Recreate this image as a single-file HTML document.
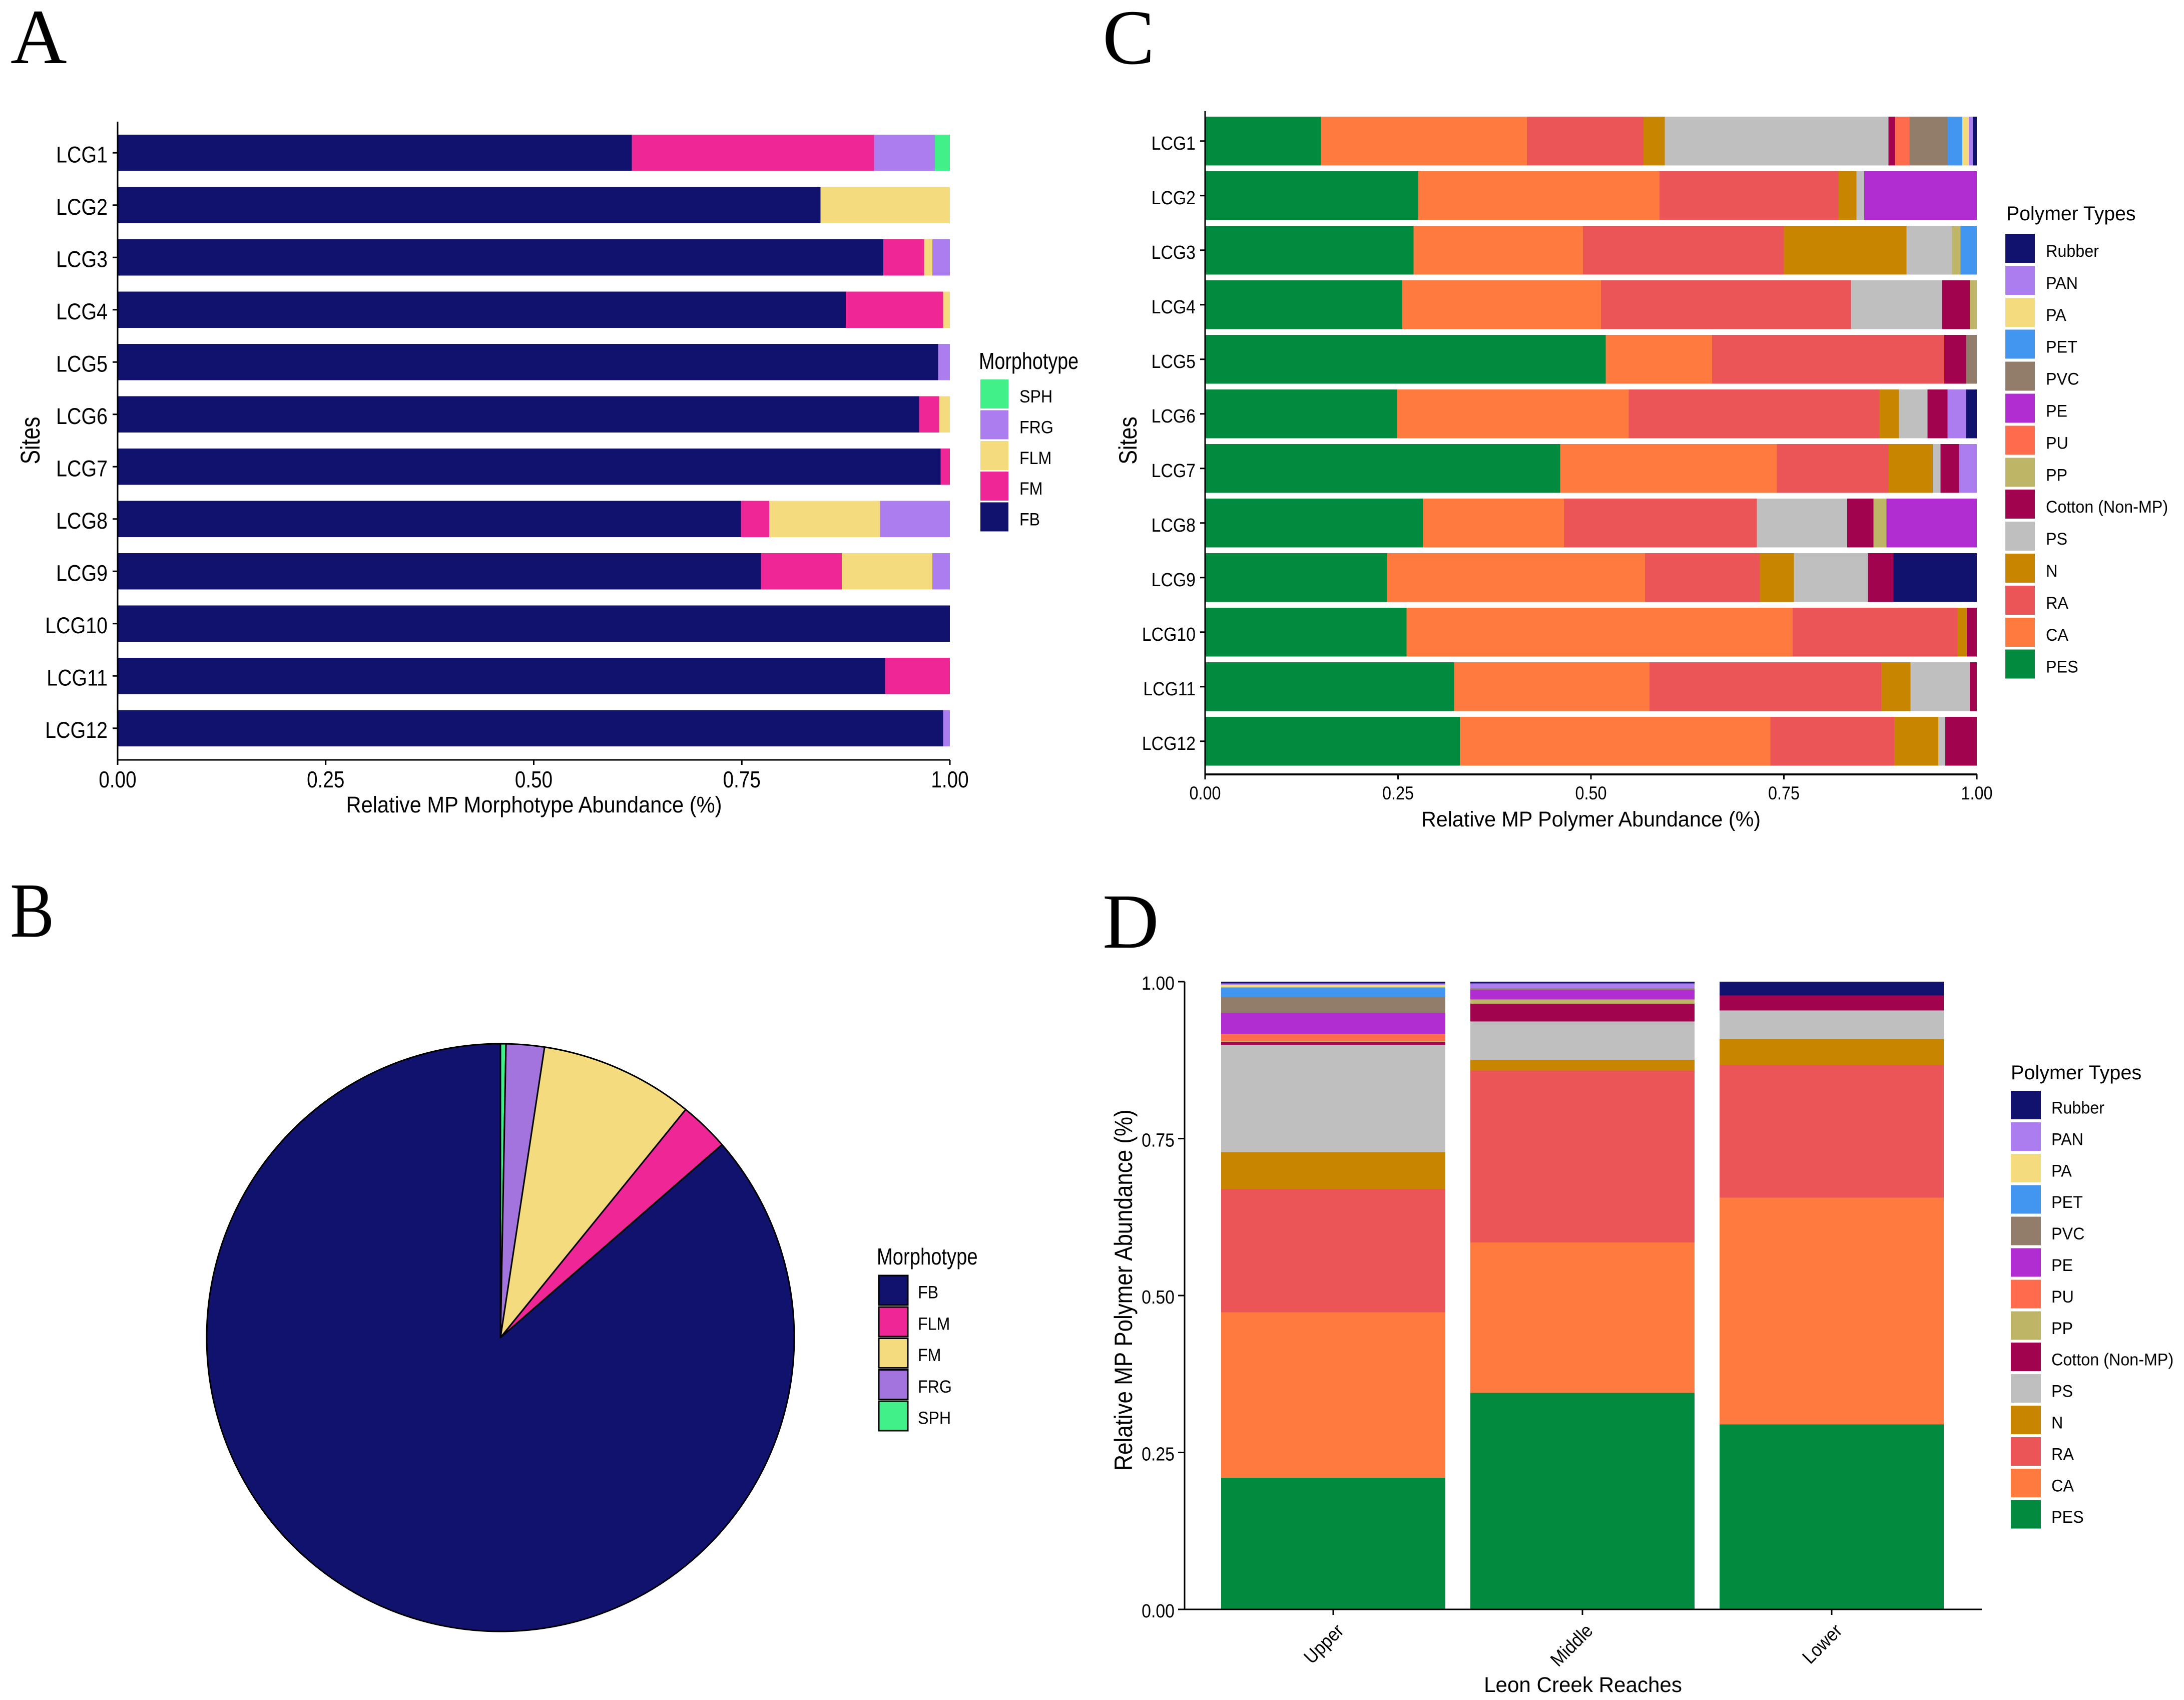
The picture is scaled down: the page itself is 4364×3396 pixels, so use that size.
<!DOCTYPE html>
<html lang="en">
<head>
<meta charset="utf-8">
<title>Microplastic morphotype and polymer abundance</title>
<style>
html,body{margin:0;padding:0;background:#fff;}
svg{display:block;}
text{font-family:"Liberation Sans",sans-serif;fill:#000;}
text.letter{font-family:"Liberation Serif",serif;}
</style>
</head>
<body>
<svg id="fig" xmlns="http://www.w3.org/2000/svg" width="4364" height="3396" viewBox="0 0 4364 3396">
<rect x="0" y="0" width="4364" height="3396" fill="#ffffff"/>
</svg>
<script>
// ---------- shared categories ----------
const sites = ['LCG1','LCG2','LCG3','LCG4','LCG5','LCG6','LCG7','LCG8','LCG9','LCG10','LCG11','LCG12'];
const fractionTicks = [0, 0.25, 0.5, 0.75, 1];
const fractionTickLabels = ['0.00','0.25','0.50','0.75','1.00'];

// ---------- panel A: morphotype per site ----------
const morphA_FB  = [0.618,0.8445,0.92,0.875,0.986,0.963,0.989,0.749,0.773,1,0.922,0.992];
const morphA_FM  = [0.291,0,0.049,0.117,0,0.024,0.011,0.034,0.097,0,0.078,0];
const morphA_FLM = [0,0.1555,0.010,0.008,0,0.013,0,0.133,0.109,0,0,0];
const morphA_FRG = [0.073,0,0.021,0,0.014,0,0,0.084,0.021,0,0,0.008];
const morphA_SPH = [0.018,0,0,0,0,0,0,0,0,0,0,0];
const morphAOrder = ['FB','FM','FLM','FRG','SPH'];
const morphALegend = ['SPH','FRG','FLM','FM','FB'];

// ---------- panel B: pie ----------
const pieLabels = ['SPH','FRG','FM','FLM','FB'];
const pieValues = [0.3,2.1,8.46,2.74,86.4];
const pieLegend = ['FB','FLM','FM','FRG','SPH'];

// ---------- panel C: polymers per site ----------
const polyC_PES    = [0.150,0.2764,0.270,0.2556,0.519,0.249,0.460,0.282,0.236,0.261,0.3225,0.330];
const polyC_CA     = [0.267,0.3126,0.2196,0.2574,0.138,0.300,0.281,0.183,0.334,0.5005,0.2535,0.4026];
const polyC_RA     = [0.151,0.232,0.2604,0.324,0.301,0.325,0.145,0.250,0.149,0.2135,0.300,0.1604];
const polyC_N      = [0.0275,0.023,0.159,0,0,0.025,0.057,0,0.044,0.012,0.038,0.057];
const polyC_PS     = [0.290,0.010,0.059,0.118,0,0.037,0.010,0.117,0.096,0,0.077,0.009];
const polyC_Cotton = [0.0086,0,0,0.036,0.028,0.026,0.024,0.034,0.033,0.013,0.009,0.041];
const polyC_PP     = [0,0,0.011,0.009,0,0,0,0.017,0,0,0,0];
const polyC_PU     = [0.0187,0,0,0,0,0,0,0,0,0,0,0];
const polyC_PE     = [0,0.146,0,0,0,0,0,0.117,0,0,0,0];
const polyC_PVC    = [0.0494,0,0,0,0.014,0,0,0,0,0,0,0];
const polyC_PET    = [0.0191,0,0.021,0,0,0,0,0,0,0,0,0];
const polyC_PA     = [0.0084,0,0,0,0,0,0,0,0,0,0,0];
const polyC_PAN    = [0.0052,0,0,0,0,0.024,0.023,0,0,0,0,0];
const polyC_Rubber = [0.0052,0,0,0,0,0.014,0,0,0.108,0,0,0];

// ---------- panel D: polymers per reach ----------
const reaches = ['Upper','Middle','Lower'];
const polyD_PES    = [0.2099,0.3449,0.2947];
const polyD_CA     = [0.2634,0.2395,0.3613];
const polyD_RA     = [0.1967,0.2739,0.2108];
const polyD_N      = [0.0584,0.0173,0.0415];
const polyD_PS     = [0.1711,0.0611,0.0457];
const polyD_Cotton = [0.0045,0.0282,0.0239];
const polyD_PP     = [0.002,0.0067,0];
const polyD_PU     = [0.011,0,0];
const polyD_PE     = [0.033,0.0151,0];
const polyD_PVC    = [0.026,0.0024,0];
const polyD_PET    = [0.015,0,0];
const polyD_PA     = [0.0042,0,0];
const polyD_PAN    = [0.0021,0.0082,0];
const polyD_Rubber = [0.0027,0.0027,0.0221];
const polyOrder = ['PES','CA','RA','N','PS','Cotton (Non-MP)','PP','PU','PE','PVC','PET','PA','PAN','Rubber'];
const polyLegend = ['Rubber','PAN','PA','PET','PVC','PE','PU','PP','Cotton (Non-MP)','PS','N','RA','CA','PES'];

// ---------- colours ----------
const morphColor = {FB:'#10126e',FM:'#ef2695',FLM:'#f4dc7e',FRG:'#ac7def',SPH:'#41f088'};
const pieColor = {FB:'#10126e',FLM:'#ef2695',FM:'#f4dc7e',FRG:'#a374dd',SPH:'#41f088'};
const polyColor = {'PES':'#028b3f','CA':'#ff7a3f','RA':'#ec5557','N':'#c88600','PS':'#bfbfbf','Cotton (Non-MP)':'#a2034f','PP':'#bfb566','PU':'#ff6b4d','PE':'#b12dd2','PVC':'#917d69','PET':'#4296f0','PA':'#f4dc7e','PAN':'#ac7def','Rubber':'#10126e'};

const seriesA = {FB:morphA_FB,FM:morphA_FM,FLM:morphA_FLM,FRG:morphA_FRG,SPH:morphA_SPH};
const seriesC = {'PES':polyC_PES,'CA':polyC_CA,'RA':polyC_RA,'N':polyC_N,'PS':polyC_PS,'Cotton (Non-MP)':polyC_Cotton,'PP':polyC_PP,'PU':polyC_PU,'PE':polyC_PE,'PVC':polyC_PVC,'PET':polyC_PET,'PA':polyC_PA,'PAN':polyC_PAN,'Rubber':polyC_Rubber};
const seriesD = {'PES':polyD_PES,'CA':polyD_CA,'RA':polyD_RA,'N':polyD_N,'PS':polyD_PS,'Cotton (Non-MP)':polyD_Cotton,'PP':polyD_PP,'PU':polyD_PU,'PE':polyD_PE,'PVC':polyD_PVC,'PET':polyD_PET,'PA':polyD_PA,'PAN':polyD_PAN,'Rubber':polyD_Rubber};

// ---------- helpers ----------
const NS = 'http://www.w3.org/2000/svg';
const fig = document.getElementById('fig');
function make(tag, attrs, name, parent) {
  const el = document.createElementNS(NS, tag);
  for (const k in attrs) el.setAttribute(k, attrs[k]);
  
  
  (parent || fig).appendChild(el);
  return el;
}
function group(name) { return make('g', {}, name, fig); }
function slug(s) { return s.toLowerCase().replace(/[^a-z0-9]+/g, '-').replace(/-+$/,''); }
function label(str, x, y, size, k, anchor, rot, name, parent, cls) {
  const attrs = {
    transform: 'translate(' + x + ',' + y + ') rotate(' + (rot || 0) + ') scale(' + k + ',1)',
    'font-size': size,
    'text-anchor': anchor || 'start'
  };
  if (cls) attrs['class'] = cls;
  const el = make('text', attrs, name, parent);
  el.textContent = str;
  return el;
}
function line(x1, y1, x2, y2, w, name, parent) {
  return make('line', {x1:x1, y1:y1, x2:x2, y2:y2, stroke:'#000', 'stroke-width':w}, name, parent);
}
function rect(x, y, w, h, fill, name, parent, extra) {
  const attrs = Object.assign({x:x, y:y, width:w, height:h, fill:fill, 'shape-rendering':'crispEdges'}, extra || {});
  return make('rect', attrs, name, parent);
}
function hStack(cfg) {
  const g = cfg.g;
  const xs = v => cfg.x0 + v * (cfg.x1 - cfg.x0);
  const ys = i => cfg.top + cfg.pitch * i;
  sites.forEach((site, i) => {
    let cum = 0;
    cfg.order.forEach(key => {
      const v = cfg.series[key][i];
      if (v > 0) {
        rect(xs(cum), ys(i), xs(cum + v) - xs(cum), cfg.h, cfg.colors[key], 'bar-' + slug(site) + '-' + slug(key), g);
      }
      cum += v;
    });
    const cy = ys(i) + cfg.h / 2;
    line(cfg.x0 - 10, cy, cfg.x0, cy, 3, 'y-tick-' + slug(site), g);
    label(site, cfg.x0 - cfg.labelGap, cy + cfg.labelDy, cfg.tickSize, cfg.tickK, 'end', 0, 'y-tick-label-' + slug(site), g);
  });
  fractionTicks.forEach((t, i) => {
    line(xs(t), cfg.axisY, xs(t), cfg.axisY + 10, 3, 'x-tick-' + fractionTickLabels[i], g);
    label(fractionTickLabels[i], xs(t), cfg.xLabelY, cfg.xTickSize, cfg.xTickK, 'middle', 0, 'x-tick-label-' + fractionTickLabels[i], g);
  });
  line(cfg.x0, cfg.axisTop, cfg.x0, cfg.axisY + 1.5, 3, 'y-axis-line', g);
  line(cfg.x0, cfg.axisY, cfg.x1, cfg.axisY, cfg.axisW, 'x-axis-line', g);
}
function legend(cfg) {
  const g = make('g', {}, cfg.name, cfg.g);
  label(cfg.title, cfg.titleX, cfg.titleY, cfg.titleSize, cfg.titleK, 'start', 0, 'legend-title', g);
  cfg.items.forEach((item, i) => {
    const y = cfg.top + cfg.pitch * i;
    const extra = cfg.outline ? {stroke:'#000', 'stroke-width':3} : {};
    rect(cfg.x, y, cfg.w, cfg.h, cfg.colors[item], 'legend-key-' + slug(item), g, extra);
    label(item, cfg.labelX, y + cfg.h / 2 + cfg.labelDy, cfg.size, cfg.k, 'start', 0, 'legend-label-' + slug(item), g);
  });
}

// ---------- panel A ----------
const gA = group('panel-a');
label('A', 21, 126, 156, 1, 'start', 0, 'panel-letter-a', gA, 'letter');
hStack({g:gA, x0:235, x1:1898, top:269, pitch:104.5, h:72.5, axisY:1518, axisTop:243, axisW:3,
  series:seriesA, order:morphAOrder, colors:morphColor,
  labelGap:20, labelDy:19, tickSize:45, tickK:0.875, xLabelY:1573, xTickSize:46, xTickK:0.84});
label('Relative MP Morphotype Abundance (%)', 1067, 1623, 45, 0.925, 'middle', 0, 'x-axis-title', gA);
label('Sites', 79, 880, 54, 0.79, 'middle', -90, 'y-axis-title', gA);
legend({g:gA, name:'morphotype-legend', title:'Morphotype', titleX:1956, titleY:737, titleSize:46, titleK:0.82,
  items:morphALegend, colors:morphColor, x:1959, w:56, top:758, pitch:61.4, h:58, labelX:2037, labelDy:17, size:35, k:0.92});

// ---------- panel B ----------
const gB = group('panel-b');
label('B', 20, 1871, 156, 0.85, 'start', 0, 'panel-letter-b', gB, 'letter');
const pieCx = 1000, pieCy = 2672, pieR = 587;
const pieTotal = pieValues.reduce((a, b) => a + b, 0);
let pieCum = 0;
pieValues.forEach((v, i) => {
  const a0 = pieCum / pieTotal * 2 * Math.PI;
  pieCum += v;
  const a1 = pieCum / pieTotal * 2 * Math.PI;
  const d = 'M' + pieCx + ' ' + pieCy +
    'L' + (pieCx + pieR * Math.sin(a0)) + ' ' + (pieCy - pieR * Math.cos(a0)) +
    'A' + pieR + ' ' + pieR + ' 0 ' + ((a1 - a0) > Math.PI ? 1 : 0) + ' 1 ' +
    (pieCx + pieR * Math.sin(a1)) + ' ' + (pieCy - pieR * Math.cos(a1)) + 'Z';
  make('path', {d:d, fill:pieColor[pieLabels[i]], stroke:'#000', 'stroke-width':3, 'stroke-linejoin':'round'}, 'pie-slice-' + slug(pieLabels[i]), gB);
});
legend({g:gB, name:'pie-legend', title:'Morphotype', titleX:1752, titleY:2526, titleSize:46, titleK:0.83,
  items:pieLegend, colors:pieColor, x:1756, w:58, top:2548, pitch:62.8, h:59, labelX:1834, labelDy:16, size:35, k:0.92, outline:true});

// ---------- panel C ----------
const gC = group('panel-c');
label('C', 2203, 127, 156, 1, 'start', 0, 'panel-letter-c', gC, 'letter');
hStack({g:gC, x0:2408, x1:3950, top:233, pitch:109, h:97.5, axisY:1547, axisTop:222, axisW:4,
  series:seriesC, order:polyOrder, colors:polyColor,
  labelGap:19, labelDy:17, tickSize:38, tickK:0.89, xLabelY:1597, xTickSize:37, xTickK:0.875});
label('Relative MP Polymer Abundance (%)', 3179, 1651, 43, 0.96, 'middle', 0, 'x-axis-title', gC);
label('Sites', 2271, 880, 50, 0.86, 'middle', -90, 'y-axis-title', gC);
legend({g:gC, name:'polymer-legend', title:'Polymer Types', titleX:4009, titleY:440, titleSize:40, titleK:0.98,
  items:polyLegend, colors:polyColor, x:4007, w:59, top:467, pitch:63.9, h:58, labelX:4088, labelDy:17, size:34, k:0.95});

// ---------- panel D ----------
const gD = group('panel-d');
label('D', 2203, 1893, 156, 1, 'start', 0, 'panel-letter-d', gD, 'letter');
const dY = v => 3215 - v * 1254;
const dBandLeft = i => 2440 + 498 * i;
const dBandWidth = 448;
reaches.forEach((reach, i) => {
  let cum = 0;
  polyOrder.forEach(key => {
    const v = seriesD[key][i];
    if (v > 0) {
      rect(dBandLeft(i), dY(cum + v), dBandWidth, dY(cum) - dY(cum + v), polyColor[key], 'bar-' + slug(reach) + '-' + slug(key), gD);
    }
    cum += v;
  });
  const cx = dBandLeft(i) + dBandWidth / 2;
  line(cx, 3215, cx, 3226, 3, 'x-tick-' + slug(reach), gD);
  label(reach, cx + 23, 3260, 38, 0.9, 'end', -45, 'x-tick-label-' + slug(reach), gD);
});
fractionTicks.forEach((t, i) => {
  line(2354, dY(t), 2367, dY(t), 3, 'y-tick-' + fractionTickLabels[i], gD);
  label(fractionTickLabels[i], 2347, dY(t) + 16, 38, 0.89, 'end', 0, 'y-tick-label-' + fractionTickLabels[i], gD);
});
line(2367, dY(1), 2367, 3216.5, 3, 'y-axis-line', gD);
line(2367, 3215, 3960, 3215, 3, 'x-axis-line', gD);
label('Relative MP Polymer Abundance (%)', 2262, 2577, 50, 0.878, 'middle', -90, 'y-axis-title', gD);
label('Leon Creek Reaches', 3163, 3380, 43, 0.98, 'middle', 0, 'x-axis-title', gD);
legend({g:gD, name:'polymer-legend', title:'Polymer Types', titleX:4018, titleY:2156, titleSize:40, titleK:0.99,
  items:polyLegend, colors:polyColor, x:4018, w:60, top:2179, pitch:62.9, h:57, labelX:4099, labelDy:17, size:34, k:0.95});
</script>
</body>
</html>
